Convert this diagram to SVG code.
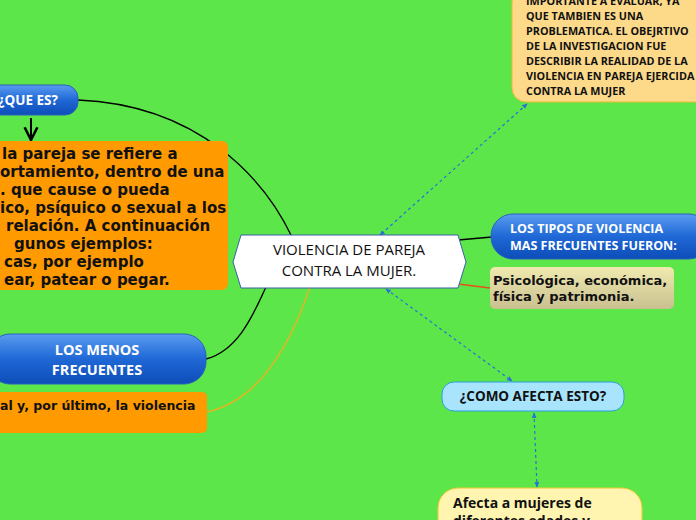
<svg xmlns="http://www.w3.org/2000/svg" width="696" height="520" viewBox="0 0 696 520">
<defs>
<linearGradient id="blue" x1="0" y1="0" x2="0" y2="1"><stop offset="0" stop-color="#5a9cf0"/><stop offset="0.5" stop-color="#1f68d6"/><stop offset="1" stop-color="#0d4db8"/></linearGradient>
<linearGradient id="tan" x1="0" y1="0" x2="0" y2="1"><stop offset="0" stop-color="#f0eab0"/><stop offset="1" stop-color="#c9c08f"/></linearGradient>
<marker id="arr" viewBox="0 0 10 10" refX="9" refY="5" markerWidth="8" markerHeight="8" orient="auto-start-reverse"><path d="M1,1 L9,5 L1,9" fill="none" stroke="#000" stroke-width="1.6"/></marker>
<marker id="dot" viewBox="0 0 10 10" refX="8" refY="5" markerWidth="5" markerHeight="5" orient="auto-start-reverse"><path d="M0,1 L9,5 L0,9 z" fill="#2a6fd8"/></marker>
<style>
.bt{font-family:"Open Sans","DejaVu Sans",sans-serif;font-weight:bold;fill:#fff}
.ob{font-family:"DejaVu Sans",sans-serif;font-weight:bold;fill:#111}
.dk{font-family:"Open Sans","DejaVu Sans",sans-serif;font-weight:bold;fill:#111}
.dash{fill:none;stroke:#2a6fd8;stroke-width:1.2;stroke-dasharray:3,3;marker-start:url(#dot);marker-end:url(#dot)}
</style>
</defs>
<rect width="696" height="520" fill="#5ce649"/>
<g id="connectors">
<path d="M78,100 C200,105 265,180 292,237" fill="none" stroke="#000" stroke-width="1.3"/>
<path d="M206,359 C240,350 255,310 266,287" fill="none" stroke="#000" stroke-width="1.3"/>
<path d="M207,412 C262,400 292,340 310,287" fill="none" stroke="#f0b020" stroke-width="1.3"/>
<path d="M458,240 L492,237" stroke="#000" stroke-width="1.3"/>
<path d="M458,284 L490,288" stroke="#e8501a" stroke-width="1.3"/>
<path d="M31,118 L31,140" stroke="#000" stroke-width="2" marker-end="url(#arr)"/>
<path class="dash" d="M527,104 L380,235"/>
<path class="dash" d="M386,289 L512,381"/>
<path class="dash" d="M534,413 L537,487"/>
</g>
<g id="center">
<polygon points="233,262 241,235 458,235 466,262 458,288 241,288" fill="#fff" stroke="#3a5fa8" stroke-width="1"/>
<text x="349" y="255" text-anchor="middle" font-family="'Open Sans',sans-serif" font-size="15" fill="#111">VIOLENCIA DE PAREJA</text>
<text x="349" y="276" text-anchor="middle" font-family="'Open Sans',sans-serif" font-size="15" fill="#111">CONTRA LA MUJER.</text>
</g>
<g id="quees">
<rect x="-12" y="85" width="90" height="30" rx="13" fill="url(#blue)" stroke="#2a5fc0"/>
<text class="bt" x="-2" y="105" font-size="13.5">¿QUE ES?</text>
</g>
<g id="definicion" class="ob" font-size="15">
<rect x="-12" y="141" width="240" height="149" rx="6" fill="#ff9a00"/>
<text x="2" y="159">la pareja se refiere a</text>
<text x="0" y="177">ortamiento, dentro de una</text>
<text x="0" y="195">. que cause o pueda</text>
<text x="0" y="213">ico, psíquico o sexual a los</text>
<text x="6" y="231">relación. A continuación</text>
<text x="14" y="249">gunos ejemplos:</text>
<text x="4" y="267">cas, por ejemplo</text>
<text x="4" y="285">ear, patear o pegar.</text>
</g>
<g id="menos">
<rect x="-12" y="334" width="218" height="50" rx="22" fill="url(#blue)" stroke="#2a5fc0"/>
<text class="bt" x="97" y="355" text-anchor="middle" font-size="14.5">LOS MENOS</text>
<text class="bt" x="97" y="375" text-anchor="middle" font-size="14.5">FRECUENTES</text>
</g>
<g id="menostexto">
<rect x="-12" y="392" width="219" height="41" rx="5" fill="#ff9a00"/>
<text class="ob" x="0" y="410" font-size="12.5">al y, por último, la violencia</text>
</g>
<g id="objetivo">
<rect x="512" y="-12" width="200" height="114" rx="14" fill="#fdd98a" stroke="#f0b830"/>
<g class="dk" font-size="10.8">
<text x="526" y="5">IMPORTANTE A EVALUAR, YA</text>
<text x="526" y="20">QUE TAMBIEN ES UNA</text>
<text x="526" y="35">PROBLEMATICA. EL OBEJRTIVO</text>
<text x="526" y="50">DE LA INVESTIGACION FUE</text>
<text x="526" y="65">DESCRIBIR LA REALIDAD DE LA</text>
<text x="526" y="80">VIOLENCIA EN PAREJA EJERCIDA</text>
<text x="526" y="95">CONTRA LA MUJER</text>
</g>
</g>
<g id="tipos">
<rect x="491" y="214" width="220" height="45" rx="22" fill="url(#blue)" stroke="#2a5fc0"/>
<text class="bt" x="510" y="233" font-size="12.5">LOS TIPOS DE VIOLENCIA</text>
<text class="bt" x="510" y="250" font-size="12.5">MAS FRECUENTES FUERON:</text>
</g>
<g id="psicologica">
<rect x="490" y="267" width="184" height="42" rx="5" fill="url(#tan)"/>
<text class="ob" x="493" y="285" font-size="13">Psicológica, económica,</text>
<text class="ob" x="493" y="301" font-size="13">física y patrimonia.</text>
</g>
<g id="como">
<rect x="442" y="382" width="182" height="29" rx="12" fill="#a8e4fc" stroke="#2a9ee0"/>
<text class="dk" x="533" y="401" font-size="13.5" text-anchor="middle">¿COMO  AFECTA ESTO?</text>
</g>
<g id="afecta">
<rect x="438" y="488" width="204" height="60" rx="20" fill="#fff5b0" stroke="#f0c830"/>
<text class="dk" x="453" y="508" font-size="14">Afecta a mujeres de</text>
<text class="dk" x="453" y="526" font-size="14">diferentes edades y</text>
</g>
</svg>
